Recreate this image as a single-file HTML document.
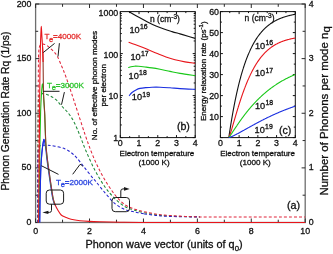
<!DOCTYPE html>
<html><head><meta charset="utf-8"><title>Phonon generation rate</title>
<style>html,body{margin:0;padding:0;background:#fff;width:333px;height:254px;overflow:hidden}svg{display:block;filter:blur(0.2px)}</style>
</head><body>
<svg width="333" height="254" viewBox="0 0 333 254"><g fill="none" stroke="#6e6e6e" stroke-width="1.1">
<rect x="35.6" y="4" width="269.6" height="218.5" stroke-width="1.3"/>
<path d="M35.6,222.5v-4.0M35.6,4v4.0M62.56,222.5v-2.8M62.56,4v2.8M89.52,222.5v-4.0M89.52,4v4.0M116.48,222.5v-2.8M116.48,4v2.8M143.44,222.5v-4.0M143.44,4v4.0M170.4,222.5v-2.8M170.4,4v2.8M197.36,222.5v-4.0M197.36,4v4.0M224.32,222.5v-2.8M224.32,4v2.8M251.28,222.5v-4.0M251.28,4v4.0M278.24,222.5v-2.8M278.24,4v2.8M305.2,222.5v-4.0M305.2,4v4.0M35.6,222.5h3.6M35.6,195.19h2.6M35.6,167.88h3.6M35.6,140.56h2.6M35.6,113.25h3.6M35.6,85.94h2.6M35.6,58.62h3.6M35.6,31.31h2.6M35.6,4h3.6M305.2,222.5h-3.6M305.2,195.19h-2.6M305.2,167.88h-3.6M305.2,140.56h-2.6M305.2,113.25h-3.6M305.2,85.94h-2.6M305.2,58.62h-3.6M305.2,31.31h-2.6M305.2,4h-3.6" stroke="#2a2a2a" stroke-width="1"/>
</g>
<g fill="none" stroke="#111" stroke-width="1">
<rect x="120.3" y="11.6" width="74.9" height="126" fill="#fff"/>
<path d="M120.3,137.6v-2.5M120.3,11.6v2.5M129.66,137.6v-1.5M129.66,11.6v1.5M139.03,137.6v-2.5M139.03,11.6v2.5M148.39,137.6v-1.5M148.39,11.6v1.5M157.75,137.6v-2.5M157.75,11.6v2.5M167.11,137.6v-1.5M167.11,11.6v1.5M176.47,137.6v-2.5M176.47,11.6v2.5M185.84,137.6v-1.5M185.84,11.6v1.5M195.2,137.6v-2.5M195.2,11.6v2.5M120.3,137.6h2.5M195.2,137.6h-2.5M120.3,124.96h1.5M195.2,124.96h-1.5M120.3,117.56h1.5M195.2,117.56h-1.5M120.3,112.31h1.5M195.2,112.31h-1.5M120.3,108.24h1.5M195.2,108.24h-1.5M120.3,104.92h1.5M195.2,104.92h-1.5M120.3,102.11h1.5M195.2,102.11h-1.5M120.3,99.67h1.5M195.2,99.67h-1.5M120.3,97.52h1.5M195.2,97.52h-1.5M120.3,95.6h2.5M195.2,95.6h-2.5M120.3,82.96h1.5M195.2,82.96h-1.5M120.3,75.56h1.5M195.2,75.56h-1.5M120.3,70.31h1.5M195.2,70.31h-1.5M120.3,66.24h1.5M195.2,66.24h-1.5M120.3,62.92h1.5M195.2,62.92h-1.5M120.3,60.11h1.5M195.2,60.11h-1.5M120.3,57.67h1.5M195.2,57.67h-1.5M120.3,55.52h1.5M195.2,55.52h-1.5M120.3,53.6h2.5M195.2,53.6h-2.5M120.3,40.96h1.5M195.2,40.96h-1.5M120.3,33.56h1.5M195.2,33.56h-1.5M120.3,28.31h1.5M195.2,28.31h-1.5M120.3,24.24h1.5M195.2,24.24h-1.5M120.3,20.92h1.5M195.2,20.92h-1.5M120.3,18.11h1.5M195.2,18.11h-1.5M120.3,15.67h1.5M195.2,15.67h-1.5M120.3,13.52h1.5M195.2,13.52h-1.5"/>
</g>
<g fill="none" stroke="#111" stroke-width="1">
<rect x="220.4" y="11.6" width="74.9" height="126" fill="#fff"/>
<path d="M220.4,137.6v-2.5M220.4,11.6v2.5M229.76,137.6v-1.5M229.76,11.6v1.5M239.12,137.6v-2.5M239.12,11.6v2.5M248.49,137.6v-1.5M248.49,11.6v1.5M257.85,137.6v-2.5M257.85,11.6v2.5M267.21,137.6v-1.5M267.21,11.6v1.5M276.57,137.6v-2.5M276.57,11.6v2.5M285.94,137.6v-1.5M285.94,11.6v1.5M295.3,137.6v-2.5M295.3,11.6v2.5M220.4,137.6h2.5M295.3,137.6h-2.5M220.4,127.1h1.5M295.3,127.1h-1.5M220.4,116.6h2.5M295.3,116.6h-2.5M220.4,106.1h1.5M295.3,106.1h-1.5M220.4,95.6h2.5M295.3,95.6h-2.5M220.4,85.1h1.5M295.3,85.1h-1.5M220.4,74.6h2.5M295.3,74.6h-2.5M220.4,64.1h1.5M295.3,64.1h-1.5M220.4,53.6h2.5M295.3,53.6h-2.5M220.4,43.1h1.5M295.3,43.1h-1.5M220.4,32.6h2.5M295.3,32.6h-2.5M220.4,22.1h1.5M295.3,22.1h-1.5M220.4,11.6h2.5M295.3,11.6h-2.5"/>
</g>
<path d="M128.8,11.6C130.4,12.52 135.2,15.33 138.4,17.1C141.6,18.87 145.07,20.72 148,22.2C150.93,23.68 153.33,24.85 156,26C158.67,27.15 161.33,28.17 164,29.1C166.67,30.03 169.33,30.8 172,31.6C174.67,32.4 177.33,33.13 180,33.9C182.67,34.67 185.47,35.45 188,36.2C190.53,36.95 194,38.03 195.2,38.4" fill="none" stroke="#111" stroke-width="1.1"/>
<path d="M128.6,42.2C129.67,42.58 132.6,43.6 135,44.5C137.4,45.4 140.5,46.6 143,47.6C145.5,48.6 147.5,49.47 150,50.5C152.5,51.53 155.33,52.72 158,53.8C160.67,54.88 163.17,56 166,57C168.83,58 171.83,58.98 175,59.8C178.17,60.62 181.63,61.33 185,61.9C188.37,62.47 193.5,62.98 195.2,63.2" fill="none" stroke="#e8151b" stroke-width="1.1"/>
<path d="M128.2,67.6C128.67,67.45 129.95,66.93 131,66.7C132.05,66.47 133.25,66.27 134.5,66.2C135.75,66.13 136.75,66.17 138.5,66.3C140.25,66.43 142.75,66.73 145,67C147.25,67.27 149.5,67.52 152,67.9C154.5,68.28 157,68.72 160,69.3C163,69.88 166.67,70.72 170,71.4C173.33,72.08 175.8,72.68 180,73.4C184.2,74.12 192.67,75.32 195.2,75.7" fill="none" stroke="#19c819" stroke-width="1.1"/>
<path d="M129,95.9C129.5,95.33 130.83,93.5 132,92.5C133.17,91.5 134.67,90.58 136,89.9C137.33,89.22 138.33,88.78 140,88.4C141.67,88.02 144,87.8 146,87.6C148,87.4 149.67,87.27 152,87.2C154.33,87.13 157,87.1 160,87.2C163,87.3 166.67,87.57 170,87.8C173.33,88.03 175.8,88.33 180,88.6C184.2,88.87 192.67,89.27 195.2,89.4" fill="none" stroke="#1a2fe0" stroke-width="1.1"/>
<path d="M228.8,137.6 L228.87,137.14 L228.97,136.48 L229.02,136.1 L229.08,135.7 L229.15,135.28 L229.21,134.84 L229.28,134.38 L229.35,133.91 L229.42,133.43 L229.5,132.94 L229.57,132.44 L229.65,131.92 L229.73,131.4 L229.81,130.87 L229.9,130.33 L229.98,129.78 L230.07,129.23 L230.15,128.67 L230.24,128.1 L230.33,127.53 L230.42,126.96 L230.52,126.37 L230.61,125.79 L230.7,125.2 L230.8,124.6 L230.9,124.01 L230.99,123.41 L231.09,122.8 L231.19,122.19 L231.29,121.58 L231.4,120.97 L231.5,120.36 L231.6,119.74 L231.71,119.12 L231.81,118.5 L231.92,117.88 L232.02,117.26 L232.13,116.63 L232.24,116 L232.35,115.38 L232.46,114.75 L232.57,114.12 L232.68,113.49 L232.8,112.86 L232.91,112.23 L233.02,111.6 L233.14,110.97 L233.25,110.34 L233.37,109.71 L233.49,109.08 L233.61,108.46 L233.72,107.83 L233.84,107.2 L233.96,106.57 L234.08,105.94 L234.2,105.32 L234.32,104.69 L234.45,104.07 L234.57,103.44 L234.69,102.82 L234.82,102.2 L234.94,101.58 L235.07,100.96 L235.19,100.34 L235.32,99.73 L235.44,99.11 L235.57,98.5 L235.7,97.89 L235.83,97.28 L235.96,96.67 L236.09,96.06 L236.22,95.46 L236.35,94.85 L236.48,94.25 L236.61,93.65 L236.74,93.05 L236.87,92.46 L237.01,91.87 L237.14,91.27 L237.27,90.69 L237.41,90.1 L237.54,89.51 L237.68,88.93 L237.82,88.35 L237.95,87.77 L238.09,87.2 L238.23,86.62 L238.36,86.05 L238.5,85.48 L238.64,84.92 L238.78,84.35 L238.92,83.79 L239.06,83.23 L239.2,82.68 L239.34,82.12 L239.48,81.57 L239.63,81.02 L239.77,80.47 L239.91,79.93 L240.05,79.39 L240.2,78.85 L240.34,78.32 L240.49,77.78 L240.63,77.25 L240.78,76.72 L240.92,76.2 L241.07,75.68 L241.22,75.16 L241.36,74.64 L241.51,74.13 L241.66,73.61 L241.81,73.11 L241.95,72.6 L242.1,72.1 L242.25,71.6 L242.4,71.1 L242.55,70.61 L242.7,70.11 L242.85,69.62 L243,69.14 L243.16,68.66 L243.31,68.17 L243.46,67.7 L243.61,67.22 L243.77,66.75 L243.92,66.28 L244.07,65.82 L244.23,65.35 L244.38,64.89 L244.54,64.43 L244.69,63.98 L244.85,63.53 L245,63.08 L245.16,62.63 L245.32,62.19 L245.47,61.75 L245.63,61.31 L245.79,60.87 L245.94,60.44 L246.1,60.01 L246.26,59.59 L246.42,59.16 L246.58,58.74 L246.74,58.32 L246.9,57.91 L247.06,57.49 L247.22,57.08 L247.38,56.68 L247.54,56.27 L247.7,55.87 L247.87,55.47 L248.03,55.08 L248.19,54.68 L248.35,54.29 L248.52,53.91 L248.68,53.52 L248.84,53.14 L249.01,52.76 L249.17,52.38 L249.34,52.01 L249.5,51.64 L249.67,51.27 L249.83,50.9 L250,50.54 L250.16,50.18 L250.33,49.82 L250.5,49.46 L250.66,49.11 L250.83,48.76 L251,48.41 L251.17,48.07 L251.34,47.73 L251.5,47.39 L251.67,47.05 L251.84,46.71 L252.01,46.38 L252.18,46.05 L252.35,45.73 L252.52,45.4 L252.69,45.08 L252.86,44.76 L253.03,44.44 L253.2,44.13 L253.38,43.81 L253.55,43.5 L253.72,43.2 L253.89,42.89 L254.24,42.29 L254.59,41.7 L254.93,41.11 L255.28,40.54 L255.63,39.97 L255.98,39.42 L256.34,38.87 L256.69,38.33 L257.04,37.8 L257.4,37.28 L257.75,36.77 L258.11,36.27 L258.47,35.77 L258.83,35.29 L259.19,34.81 L259.55,34.34 L259.91,33.88 L260.28,33.42 L260.64,32.98 L261.01,32.54 L261.37,32.11 L261.74,31.68 L262.11,31.27 L262.48,30.86 L262.85,30.46 L263.22,30.07 L263.59,29.68 L263.96,29.3 L264.33,28.93 L264.71,28.56 L265.08,28.2 L265.46,27.85 L265.84,27.5 L266.22,27.16 L266.59,26.83 L266.97,26.5 L267.36,26.18 L267.74,25.86 L268.12,25.55 L268.5,25.25 L268.89,24.95 L269.27,24.65 L269.66,24.37 L270.04,24.09 L270.43,23.81 L270.82,23.54 L271.21,23.27 L271.6,23.01 L271.99,22.76 L272.38,22.51 L272.77,22.26 L273.17,22.02 L273.56,21.78 L273.96,21.55 L274.35,21.32 L274.75,21.1 L275.15,20.88 L275.54,20.67 L275.94,20.46 L276.34,20.25 L276.74,20.05 L277.14,19.86 L277.55,19.66 L277.95,19.47 L278.35,19.29 L278.76,19.11 L279.16,18.93 L279.57,18.75 L279.97,18.58 L280.38,18.42 L280.79,18.25 L281.2,18.09 L281.61,17.93 L282.02,17.78 L282.43,17.63 L282.84,17.48 L283.25,17.34 L283.67,17.2 L284.08,17.06 L284.5,16.92 L284.91,16.79 L285.33,16.66 L285.74,16.53 L286.16,16.41 L286.58,16.29 L287,16.17 L287.42,16.05 L287.84,15.94 L288.26,15.82 L288.68,15.72 L289.1,15.61 L289.52,15.5 L289.95,15.4 L290.37,15.3 L290.8,15.2 L291.22,15.11 L291.65,15.01 L292.08,14.92 L292.5,14.83 L292.93,14.74 L293.36,14.66 L293.79,14.58 L294.22,14.49 L294.65,14.41 L295.08,14.33 L295.3,14.3" fill="none" stroke="#111" stroke-width="1.1"/>
<path d="M228.8,137.6 L229.02,137.2 L229.21,136.76 L229.35,136.42 L229.5,136.03 L229.65,135.61 L229.81,135.15 L229.98,134.67 L230.15,134.15 L230.33,133.61 L230.52,133.04 L230.7,132.45 L230.9,131.83 L231.09,131.2 L231.29,130.54 L231.5,129.87 L231.6,129.53 L231.71,129.18 L231.81,128.83 L231.92,128.47 L232.02,128.11 L232.13,127.75 L232.24,127.38 L232.35,127.01 L232.46,126.64 L232.57,126.26 L232.68,125.88 L232.8,125.49 L232.91,125.11 L233.02,124.72 L233.14,124.32 L233.25,123.93 L233.37,123.53 L233.49,123.13 L233.61,122.72 L233.72,122.32 L233.84,121.91 L233.96,121.5 L234.08,121.09 L234.2,120.67 L234.32,120.26 L234.45,119.84 L234.57,119.42 L234.69,118.99 L234.82,118.57 L234.94,118.15 L235.07,117.72 L235.19,117.29 L235.32,116.86 L235.44,116.43 L235.57,116 L235.7,115.56 L235.83,115.13 L235.96,114.69 L236.09,114.25 L236.22,113.82 L236.35,113.38 L236.48,112.94 L236.61,112.5 L236.74,112.06 L236.87,111.61 L237.01,111.17 L237.14,110.73 L237.27,110.29 L237.41,109.84 L237.54,109.4 L237.68,108.95 L237.82,108.51 L237.95,108.07 L238.09,107.62 L238.23,107.18 L238.36,106.73 L238.5,106.29 L238.64,105.84 L238.78,105.4 L238.92,104.95 L239.06,104.51 L239.2,104.06 L239.34,103.62 L239.48,103.17 L239.63,102.73 L239.77,102.29 L239.91,101.85 L240.05,101.4 L240.2,100.96 L240.34,100.52 L240.49,100.08 L240.63,99.64 L240.78,99.2 L240.92,98.76 L241.07,98.33 L241.22,97.89 L241.36,97.45 L241.51,97.02 L241.66,96.58 L241.81,96.15 L241.95,95.72 L242.1,95.29 L242.25,94.86 L242.4,94.43 L242.55,94 L242.7,93.57 L242.85,93.15 L243,92.72 L243.16,92.3 L243.31,91.88 L243.46,91.46 L243.61,91.04 L243.77,90.62 L243.92,90.2 L244.07,89.78 L244.23,89.37 L244.38,88.96 L244.54,88.55 L244.69,88.13 L244.85,87.73 L245,87.32 L245.16,86.91 L245.32,86.51 L245.47,86.11 L245.63,85.7 L245.79,85.31 L245.94,84.91 L246.1,84.51 L246.26,84.12 L246.42,83.72 L246.58,83.33 L246.74,82.94 L246.9,82.55 L247.06,82.17 L247.22,81.78 L247.38,81.4 L247.54,81.02 L247.7,80.64 L247.87,80.26 L248.03,79.89 L248.19,79.51 L248.35,79.14 L248.52,78.77 L248.68,78.4 L248.84,78.03 L249.01,77.67 L249.17,77.31 L249.34,76.94 L249.5,76.58 L249.67,76.23 L249.83,75.87 L250,75.52 L250.16,75.17 L250.33,74.82 L250.5,74.47 L250.66,74.12 L250.83,73.78 L251,73.44 L251.17,73.1 L251.34,72.76 L251.5,72.42 L251.67,72.09 L251.84,71.76 L252.01,71.43 L252.18,71.1 L252.35,70.77 L252.52,70.45 L252.69,70.13 L252.86,69.81 L253.03,69.49 L253.2,69.17 L253.38,68.86 L253.55,68.54 L253.72,68.23 L253.89,67.93 L254.07,67.62 L254.24,67.32 L254.59,66.71 L254.93,66.12 L255.28,65.53 L255.63,64.95 L255.98,64.38 L256.34,63.82 L256.69,63.26 L257.04,62.72 L257.4,62.18 L257.75,61.65 L258.11,61.12 L258.47,60.61 L258.83,60.1 L259.19,59.6 L259.55,59.11 L259.91,58.62 L260.28,58.15 L260.64,57.68 L261.01,57.21 L261.37,56.76 L261.74,56.31 L262.11,55.87 L262.48,55.44 L262.85,55.01 L263.22,54.6 L263.59,54.19 L263.96,53.78 L264.33,53.38 L264.71,52.99 L265.08,52.61 L265.46,52.23 L265.84,51.86 L266.22,51.5 L266.59,51.14 L266.97,50.79 L267.36,50.45 L267.74,50.11 L268.12,49.78 L268.5,49.45 L268.89,49.13 L269.27,48.82 L269.66,48.51 L270.04,48.21 L270.43,47.92 L270.82,47.63 L271.21,47.34 L271.6,47.06 L271.99,46.79 L272.38,46.52 L272.77,46.26 L273.17,46 L273.56,45.75 L273.96,45.5 L274.35,45.26 L274.75,45.02 L275.15,44.79 L275.54,44.57 L275.94,44.34 L276.34,44.13 L276.74,43.91 L277.14,43.7 L277.55,43.5 L277.95,43.3 L278.35,43.11 L278.76,42.91 L279.16,42.73 L279.57,42.54 L279.97,42.37 L280.38,42.19 L280.79,42.02 L281.2,41.85 L281.61,41.69 L282.02,41.53 L282.43,41.37 L282.84,41.22 L283.25,41.07 L283.67,40.93 L284.08,40.78 L284.5,40.64 L284.91,40.51 L285.33,40.38 L285.74,40.25 L286.16,40.12 L286.58,40 L287,39.88 L287.42,39.76 L287.84,39.64 L288.26,39.53 L288.68,39.42 L289.1,39.32 L289.52,39.21 L289.95,39.11 L290.37,39.01 L290.8,38.91 L291.22,38.82 L291.65,38.73 L292.08,38.64 L292.5,38.55 L292.93,38.47 L293.36,38.38 L293.79,38.3 L294.22,38.22 L294.65,38.15 L295.08,38.07 L295.3,38.03" fill="none" stroke="#e8151b" stroke-width="1.1"/>
<path d="M228.8,137.6 L229.08,137.26 L229.35,136.89 L229.57,136.58 L229.81,136.24 L230.07,135.87 L230.33,135.48 L230.61,135.07 L230.9,134.64 L231.09,134.35 L231.29,134.04 L231.5,133.74 L231.71,133.42 L231.92,133.1 L232.13,132.77 L232.35,132.44 L232.57,132.11 L232.8,131.76 L233.02,131.42 L233.25,131.07 L233.49,130.71 L233.72,130.36 L233.96,130 L234.2,129.63 L234.45,129.26 L234.69,128.89 L234.94,128.52 L235.19,128.14 L235.44,127.76 L235.7,127.38 L235.96,127 L236.22,126.61 L236.48,126.22 L236.74,125.83 L237.01,125.44 L237.27,125.04 L237.54,124.65 L237.82,124.25 L238.09,123.85 L238.36,123.45 L238.64,123.05 L238.92,122.65 L239.2,122.25 L239.48,121.85 L239.77,121.44 L240.05,121.04 L240.34,120.63 L240.63,120.23 L240.92,119.82 L241.22,119.41 L241.51,119.01 L241.81,118.6 L242.1,118.19 L242.4,117.78 L242.7,117.38 L243,116.97 L243.31,116.56 L243.61,116.15 L243.92,115.75 L244.23,115.34 L244.54,114.93 L244.85,114.53 L245.16,114.12 L245.47,113.72 L245.79,113.31 L246.1,112.91 L246.42,112.51 L246.74,112.11 L247.06,111.71 L247.38,111.3 L247.7,110.91 L248.03,110.51 L248.35,110.11 L248.68,109.71 L249.01,109.32 L249.34,108.92 L249.67,108.53 L250,108.14 L250.33,107.75 L250.66,107.36 L251,106.97 L251.34,106.58 L251.67,106.19 L252.01,105.81 L252.35,105.43 L252.69,105.04 L253.03,104.66 L253.38,104.28 L253.72,103.91 L254.07,103.53 L254.41,103.16 L254.76,102.78 L255.11,102.41 L255.46,102.04 L255.81,101.67 L256.16,101.31 L256.51,100.94 L256.87,100.58 L257.22,100.22 L257.58,99.86 L257.93,99.5 L258.29,99.15 L258.65,98.79 L259.01,98.44 L259.37,98.09 L259.73,97.74 L260.09,97.39 L260.46,97.05 L260.82,96.7 L261.19,96.36 L261.56,96.02 L261.92,95.68 L262.29,95.35 L262.66,95.01 L263.03,94.68 L263.4,94.35 L263.77,94.02 L264.15,93.7 L264.52,93.37 L264.9,93.05 L265.27,92.73 L265.65,92.41 L266.03,92.1 L266.41,91.78 L266.78,91.47 L267.17,91.16 L267.55,90.85 L267.93,90.55 L268.31,90.24 L268.69,89.94 L269.08,89.64 L269.46,89.34 L269.85,89.04 L270.24,88.75 L270.63,88.46 L271.02,88.17 L271.4,87.88 L271.8,87.59 L272.19,87.31 L272.58,87.03 L272.97,86.74 L273.37,86.47 L273.76,86.19 L274.15,85.92 L274.55,85.64 L274.95,85.37 L275.35,85.11 L275.74,84.84 L276.14,84.57 L276.54,84.31 L276.94,84.05 L277.35,83.79 L277.75,83.54 L278.15,83.28 L278.56,83.03 L278.96,82.78 L279.37,82.53 L279.77,82.29 L280.18,82.04 L280.59,81.8 L280.99,81.56 L281.4,81.32 L281.81,81.08 L282.22,80.85 L282.64,80.61 L283.05,80.38 L283.46,80.15 L283.87,79.93 L284.29,79.7 L284.7,79.48 L285.12,79.26 L285.53,79.04 L285.95,78.82 L286.37,78.6 L286.79,78.39 L287.21,78.18 L287.63,77.97 L288.05,77.76 L288.47,77.55 L288.89,77.35 L289.31,77.14 L289.74,76.94 L290.16,76.74 L290.58,76.54 L291.01,76.35 L291.44,76.15 L291.86,75.96 L292.29,75.77 L292.72,75.58 L293.15,75.39 L293.58,75.21 L294.01,75.02 L294.44,74.84 L294.87,74.66 L295.3,74.48" fill="none" stroke="#19c819" stroke-width="1.1"/>
<path d="M228.8,137.6 L229.15,137.53 L229.5,137.42 L229.9,137.29 L230.24,137.17 L230.61,137.03 L230.99,136.87 L231.4,136.71 L231.81,136.53 L232.13,136.39 L232.46,136.24 L232.8,136.08 L233.14,135.92 L233.49,135.76 L233.84,135.59 L234.2,135.41 L234.57,135.23 L234.94,135.05 L235.32,134.86 L235.7,134.66 L236.09,134.46 L236.48,134.26 L236.87,134.05 L237.27,133.84 L237.68,133.63 L238.09,133.41 L238.5,133.19 L238.92,132.96 L239.34,132.73 L239.77,132.5 L240.2,132.27 L240.63,132.03 L241.07,131.79 L241.51,131.55 L241.95,131.3 L242.4,131.05 L242.85,130.8 L243.31,130.55 L243.77,130.3 L244.07,130.12 L244.38,129.95 L244.69,129.78 L245,129.6 L245.32,129.43 L245.63,129.25 L245.94,129.08 L246.26,128.9 L246.58,128.72 L246.9,128.54 L247.22,128.36 L247.54,128.18 L247.87,128 L248.19,127.82 L248.52,127.64 L248.84,127.46 L249.17,127.28 L249.5,127.09 L249.83,126.91 L250.16,126.72 L250.5,126.54 L250.83,126.35 L251.17,126.17 L251.5,125.98 L251.84,125.8 L252.18,125.61 L252.52,125.42 L252.86,125.23 L253.2,125.05 L253.55,124.86 L253.89,124.67 L254.24,124.48 L254.59,124.29 L254.93,124.1 L255.28,123.91 L255.63,123.72 L255.98,123.53 L256.34,123.34 L256.69,123.16 L257.04,122.97 L257.4,122.78 L257.75,122.59 L258.11,122.4 L258.47,122.21 L258.83,122.02 L259.19,121.83 L259.55,121.64 L259.91,121.45 L260.28,121.26 L260.64,121.07 L261.01,120.88 L261.37,120.69 L261.74,120.5 L262.11,120.31 L262.48,120.12 L262.85,119.93 L263.22,119.74 L263.59,119.55 L263.96,119.36 L264.33,119.17 L264.71,118.99 L265.08,118.8 L265.46,118.61 L265.84,118.42 L266.22,118.24 L266.59,118.05 L266.97,117.86 L267.36,117.68 L267.74,117.49 L268.12,117.31 L268.5,117.12 L268.89,116.93 L269.27,116.75 L269.66,116.57 L270.04,116.38 L270.43,116.2 L270.82,116.02 L271.21,115.83 L271.6,115.65 L271.99,115.47 L272.38,115.29 L272.77,115.11 L273.17,114.93 L273.56,114.75 L273.96,114.57 L274.35,114.39 L274.75,114.21 L275.15,114.03 L275.54,113.86 L275.94,113.68 L276.34,113.5 L276.74,113.33 L277.14,113.15 L277.55,112.98 L277.95,112.8 L278.35,112.63 L278.76,112.46 L279.16,112.29 L279.57,112.11 L279.97,111.94 L280.38,111.77 L280.79,111.6 L281.2,111.43 L281.61,111.27 L282.02,111.1 L282.43,110.93 L282.84,110.76 L283.25,110.6 L283.67,110.43 L284.08,110.27 L284.5,110.1 L284.91,109.94 L285.33,109.78 L285.74,109.62 L286.16,109.45 L286.58,109.29 L287,109.13 L287.42,108.97 L287.84,108.82 L288.26,108.66 L288.68,108.5 L289.1,108.34 L289.52,108.19 L289.95,108.03 L290.37,107.88 L290.8,107.73 L291.22,107.57 L291.65,107.42 L292.08,107.27 L292.5,107.12 L292.93,106.97 L293.36,106.82 L293.79,106.67 L294.22,106.52 L294.65,106.38 L295.08,106.23 L295.3,106.16" fill="none" stroke="#1a2fe0" stroke-width="1.1"/>
<g fill="none" stroke-width="1.05" stroke-dasharray="2.9 2.1">
<path d="M37.8,222.5C37.8,210.42 37.75,168.75 37.8,150C37.85,131.25 37.93,118.83 38.1,110C38.27,101.17 38.4,99.67 38.8,97C39.2,94.33 39.5,94.52 40.5,94C41.5,93.48 43.22,93.6 44.8,93.9C46.38,94.2 48.13,94.83 50,95.8C51.87,96.77 54.18,98.13 56,99.7C57.82,101.27 59.23,103.4 60.9,105.2C62.57,107 64.4,108.7 66,110.5C67.6,112.3 69,113.75 70.5,116C72,118.25 73.42,120.72 75,124C76.58,127.28 78.17,131.2 80,135.7C81.83,140.2 83.53,145.28 86,151C88.47,156.72 91.67,164.05 94.8,170C97.93,175.95 101.48,181.95 104.8,186.7C108.12,191.45 111.42,195.23 114.7,198.5C117.98,201.77 121.28,204.38 124.5,206.3C127.72,208.22 130.72,208.92 134,210C137.28,211.08 142.5,212.33 144.2,212.8" stroke="#218a3a"/>
<path d="M144.2,212.8C146.33,213.15 152.7,214.37 157,214.9C161.3,215.43 165.33,215.72 170,216C174.67,216.28 180,216.45 185,216.6C190,216.75 197.5,216.85 200,216.9" stroke="#218a3a"/>
<path d="M37.7,222.5C37.7,213.75 37.62,181.75 37.7,170C37.78,158.25 37.9,155.92 38.2,152C38.5,148.08 38.87,147.62 39.5,146.5C40.13,145.38 40.58,145.5 42,145.3C43.42,145.1 45.83,145.15 48,145.3C50.17,145.45 52.22,145.62 55,146.2C57.78,146.78 62.03,147.75 64.7,148.8C67.37,149.85 69.03,151.03 71,152.5C72.97,153.97 74.27,155.1 76.5,157.6C78.73,160.1 81.78,164.22 84.4,167.5C87.02,170.78 90.27,174.93 92.2,177.3C94.13,179.67 93.9,179.15 96,181.7C98.1,184.25 101.68,188.98 104.8,192.6C107.92,196.22 111.42,200.62 114.7,203.4C117.98,206.18 121.28,207.9 124.5,209.3C127.72,210.7 130.72,211.03 134,211.8C137.28,212.57 142.5,213.55 144.2,213.9" stroke="#2222cc"/>
<path d="M144.2,213.9C146.33,214.18 152.7,215.18 157,215.6C161.3,216.02 165.33,216.2 170,216.4C174.67,216.6 180,216.72 185,216.8C190,216.88 197.5,216.88 200,216.9" stroke="#2222cc"/>
<path d="M38.2,222.5C38.2,210.42 38.18,173.75 38.2,150C38.22,126.25 38.23,95.83 38.3,80C38.37,64.17 38.42,60.5 38.6,55C38.78,49.5 39,48.73 39.4,47C39.8,45.27 40.23,45.07 41,44.6C41.77,44.13 43,44.03 44,44.2C45,44.37 45.97,44.93 47,45.6C48.03,46.27 49.03,47.17 50.2,48.2C51.37,49.23 52.8,50.42 54,51.8C55.2,53.18 56.1,54.05 57.4,56.5C58.7,58.95 60.37,63.08 61.8,66.5C63.23,69.92 64.33,72.42 66,77C67.67,81.58 69.8,88 71.8,94C73.8,100 75.77,106.17 78,113C80.23,119.83 83.03,128.67 85.2,135C87.37,141.33 89.03,146 91,151C92.97,156 94.7,160.2 97,165C99.3,169.8 101.85,174.88 104.8,179.8C107.75,184.72 111.42,190.4 114.7,194.5C117.98,198.6 121.28,202.02 124.5,204.4C127.72,206.78 130.72,207.57 134,208.8C137.28,210.03 142.5,211.3 144.2,211.8" stroke="#e0243a"/>
<path d="M144.2,211.8C146.33,212.2 152.7,213.58 157,214.2C161.3,214.82 165.33,215.13 170,215.5C174.67,215.87 180,216.17 185,216.4C190,216.63 190.83,216.8 200,216.9C209.17,217 222.47,216.98 240,217C257.53,217.02 294.33,217 305.2,217" stroke="#e0243a"/>
</g>
<defs><linearGradient id="tg" gradientUnits="userSpaceOnUse" x1="0" y1="0" x2="0" y2="254"><stop offset="0.1890" stop-color="#e8151b"/><stop offset="0.2441" stop-color="#8f3a2a"/><stop offset="0.5315" stop-color="#8f3a2a"/><stop offset="0.6299" stop-color="#9a2c55"/><stop offset="0.7795" stop-color="#9e2a50"/><stop offset="0.8268" stop-color="#e8151b"/></linearGradient></defs>
<g fill="none" stroke-width="1.1">
<path d="M39.7,222.5C39.77,217.92 39.93,203.42 40.1,195C40.27,186.58 40.5,177.83 40.7,172C40.9,166.17 41.02,164 41.3,160C41.58,156 41.98,151.43 42.4,148C42.82,144.57 43.38,140.15 43.8,139.4C44.22,138.65 44.55,141.73 44.9,143.5C45.25,145.27 45.55,147.25 45.9,150C46.25,152.75 46.58,156.67 47,160C47.42,163.33 47.93,166.67 48.4,170C48.87,173.33 49.32,176.67 49.8,180C50.28,183.33 50.8,186.83 51.3,190C51.8,193.17 52.23,196.5 52.8,199C53.37,201.5 54.38,204 54.7,205" stroke="#1a2fe0"/>
<path d="M39.2,222.5C39.25,215.42 39.37,193.75 39.5,180C39.63,166.25 39.82,151.33 40,140C40.18,128.67 40.37,119.5 40.6,112C40.83,104.5 41.1,99.63 41.4,95C41.7,90.37 42.1,85.37 42.4,84.2C42.7,83.03 43.02,86.2 43.2,88C43.38,89.8 43.35,92.17 43.5,95C43.65,97.83 43.9,101.67 44.1,105C44.3,108.33 44.52,110.83 44.7,115C44.88,119.17 45.03,125.5 45.2,130C45.37,134.5 45.52,138.67 45.7,142C45.88,145.33 46.02,147 46.3,150C46.58,153 46.98,156.67 47.4,160C47.82,163.33 48.33,166.67 48.8,170C49.27,173.33 49.72,176.67 50.2,180C50.68,183.33 51.2,186.83 51.7,190C52.2,193.17 52.63,196.5 53.2,199C53.77,201.5 54.78,204 55.1,205" stroke="#19c819"/>
<path d="M42.5,46C42.57,47.33 42.8,51.33 42.9,54C43,56.67 43.03,57.67 43.1,62C43.17,66.33 43.22,74.5 43.3,80C43.38,85.5 43.45,90.83 43.6,95C43.75,99.17 44,101.67 44.2,105C44.4,108.33 44.62,110.83 44.8,115C44.98,119.17 45.13,125.5 45.3,130C45.47,134.5 45.62,138.67 45.8,142C45.98,145.33 46.12,147 46.4,150C46.68,153 47.08,156.67 47.5,160C47.92,163.33 48.43,166.67 48.9,170C49.37,173.33 49.82,176.67 50.3,180C50.78,183.33 51.3,186.83 51.8,190C52.3,193.17 52.73,196.5 53.3,199C53.87,201.5 54.45,203.17 55.2,205C55.95,206.83 56.8,208.33 57.8,210C58.8,211.67 59.83,213.75 61.2,215C62.57,216.25 64.37,216.8 66,217.5C67.63,218.2 68.67,218.67 71,219.2C73.33,219.73 77,220.33 80,220.7C83,221.07 85.67,221.22 89,221.4C92.33,221.58 94.83,221.67 100,221.8C105.17,221.93 111.67,222.09 120,222.2C128.33,222.31 119.13,222.4 150,222.45C180.87,222.5 279.33,222.49 305.2,222.5" stroke="url(#tg)"/>
<path d="M38.7,222.5C38.75,215.42 38.87,197.08 39,180C39.13,162.92 39.35,137.5 39.5,120C39.65,102.5 39.77,86.33 39.9,75C40.03,63.67 40.17,58 40.3,52C40.42,46 40.53,42.5 40.65,39C40.77,35.5 40.89,33.12 41,31C41.11,28.88 41.2,26.3 41.3,26.3C41.4,26.3 41.48,29.05 41.6,31C41.72,32.95 41.85,35.5 42,38C42.15,40.5 42.35,43.33 42.5,46C42.65,48.67 42.8,51.33 42.9,54C43,56.67 43.07,60.67 43.1,62" stroke="#e8151b"/>
<path d="M39.7,222.5C39.77,217.92 39.93,203.42 40.1,195C40.27,186.58 40.5,177.83 40.7,172C40.9,166.17 41.02,164 41.3,160C41.58,156 41.98,151.43 42.4,148C42.82,144.57 43.57,140.83 43.8,139.4" stroke="#1a2fe0"/>
</g>
<g fill="none" stroke="#1a1a1a" stroke-width="1">
<path d="M43.2,52.6 L54.6,43.4 M59.4,43.2 L58,56.5"/>
<path d="M43.2,91.3 L59.5,91.3 M64.4,92.1 L61.5,104.7"/>
<path d="M41.3,165.7 L58.5,174.4 M72.7,174.3 L79.9,164.6 L81.2,164.5 L82.6,166.4"/>
<rect x="46.2" y="190" width="17.4" height="14.2" rx="3.2"/>
<rect x="112" y="197.5" width="17.5" height="14.2" rx="3.2"/>
<path d="M51.5,204.2 V210.4 Q51.5,212.4 49.5,212.4 H46.5"/>
<path d="M120.8,197.5 V191 Q120.8,188.9 123,188.9 H125"/>
</g>
<path d="M42.4,212.4 L48.4,210.8 L48.4,214.0 Z" fill="#1a1a1a"/>
<path d="M129.7,188.9 L124,187.1 L124,190.7 Z" fill="#1a1a1a"/>
<g font-family='"Liberation Sans", Arial, Helvetica, sans-serif' stroke-width="0.3">
<text x="31.4" y="225" font-size="8.8" text-anchor="end" fill="#111" stroke="#111" >0</text>
<text x="31.4" y="170.38" font-size="8.8" text-anchor="end" fill="#111" stroke="#111" >50</text>
<text x="31.4" y="115.75" font-size="8.8" text-anchor="end" fill="#111" stroke="#111" >100</text>
<text x="31.4" y="61.12" font-size="8.8" text-anchor="end" fill="#111" stroke="#111" >150</text>
<text x="31.4" y="6.5" font-size="8.8" text-anchor="end" fill="#111" stroke="#111" >200</text>
<text x="308.8" y="225" font-size="8.8" text-anchor="start" fill="#111" stroke="#111" >0</text>
<text x="308.8" y="170.38" font-size="8.8" text-anchor="start" fill="#111" stroke="#111" >1</text>
<text x="308.8" y="115.75" font-size="8.8" text-anchor="start" fill="#111" stroke="#111" >2</text>
<text x="308.8" y="61.12" font-size="8.8" text-anchor="start" fill="#111" stroke="#111" >3</text>
<text x="308.8" y="6.5" font-size="8.8" text-anchor="start" fill="#111" stroke="#111" >4</text>
<text x="35.6" y="233.8" font-size="8.8" text-anchor="middle" fill="#111" stroke="#111" >0</text>
<text x="89.52" y="233.8" font-size="8.8" text-anchor="middle" fill="#111" stroke="#111" >2</text>
<text x="143.44" y="233.8" font-size="8.8" text-anchor="middle" fill="#111" stroke="#111" >4</text>
<text x="197.36" y="233.8" font-size="8.8" text-anchor="middle" fill="#111" stroke="#111" >6</text>
<text x="251.28" y="233.8" font-size="8.8" text-anchor="middle" fill="#111" stroke="#111" >8</text>
<text x="305.2" y="233.8" font-size="8.8" text-anchor="middle" fill="#111" stroke="#111" >10</text>
<text transform="translate(8.6,190.6) rotate(-90)" font-size="10.3" fill="#111" textLength="159" lengthAdjust="spacingAndGlyphs" stroke="#111">Phonon Generation Rate Rq (1/ps)</text>
<text transform="translate(328.2,195.6) rotate(-90)" font-size="11.4" fill="#111" textLength="169.4" lengthAdjust="spacingAndGlyphs" stroke="#111">Number of Phonons per mode n<tspan dy="1.6">q</tspan></text>
<text x="85.6" y="248.4" font-size="10.5" fill="#111" textLength="157" lengthAdjust="spacingAndGlyphs" stroke="#111">Phonon wave vector (units of q<tspan font-size="7.5" dy="2.8">0</tspan><tspan dy="-2.8">)</tspan></text>
<text x="287" y="209.2" font-size="10.8" text-anchor="start" fill="#111" stroke="#111" >(a)</text>
<text x="118.2" y="141" font-size="8.8" text-anchor="end" fill="#111" stroke="#111" >1</text>
<text x="118.2" y="99" font-size="8.8" text-anchor="end" fill="#111" stroke="#111" >10</text>
<text x="118.2" y="57.6" font-size="8.8" text-anchor="end" fill="#111" stroke="#111" >100</text>
<text x="118.2" y="15.6" font-size="8.8" text-anchor="end" fill="#111" stroke="#111" >1000</text>
<text x="120.3" y="146.2" font-size="8.8" text-anchor="middle" fill="#111" stroke="#111" >0</text>
<text x="139.03" y="146.2" font-size="8.8" text-anchor="middle" fill="#111" stroke="#111" >1</text>
<text x="157.75" y="146.2" font-size="8.8" text-anchor="middle" fill="#111" stroke="#111" >2</text>
<text x="176.47" y="146.2" font-size="8.8" text-anchor="middle" fill="#111" stroke="#111" >3</text>
<text x="195.2" y="146.2" font-size="8.8" text-anchor="middle" fill="#111" stroke="#111" >4</text>
<text x="156.9" y="155.6" font-size="8" text-anchor="middle" fill="#111" stroke="#111" >Electron temperature</text>
<text x="154.1" y="165" font-size="8.1" text-anchor="middle" fill="#111" stroke="#111" >(1000 K)</text>
<text transform="translate(97.2,140.2) rotate(-90)" font-size="8" fill="#111" textLength="109.3" lengthAdjust="spacingAndGlyphs" stroke="#111">No. of effective phonon modes</text>
<text transform="translate(106,106.4) rotate(-90)" font-size="8" fill="#111" stroke="#111">per electron</text>
<text x="176.9" y="130.1" font-size="10.6" text-anchor="start" fill="#111" stroke="#111" >(b)</text>
<text x="150" y="22" font-size="8.5" fill="#111" stroke="#111">n (cm<tspan font-size="6.5" dy="-3.5">-3</tspan><tspan dy="3.5">)</tspan></text>
<text x="129.4" y="32.5" font-size="9.2" fill="#111" stroke="#111">10</text>
<text x="139.9" y="28.9" font-size="6.9" fill="#111" stroke="#111">16</text>
<text x="130.5" y="59.6" font-size="9.2" fill="#111" stroke="#111">10</text>
<text x="141" y="56" font-size="6.9" fill="#111" stroke="#111">17</text>
<text x="128.6" y="78.5" font-size="9.2" fill="#111" stroke="#111">10</text>
<text x="139.1" y="74.9" font-size="6.9" fill="#111" stroke="#111">18</text>
<text x="131.8" y="100.1" font-size="9.2" fill="#111" stroke="#111">10</text>
<text x="142.3" y="96.5" font-size="6.9" fill="#111" stroke="#111">19</text>
<text x="219" y="120.2" font-size="8.8" text-anchor="end" fill="#111" stroke="#111" >10</text>
<text x="219" y="99.2" font-size="8.8" text-anchor="end" fill="#111" stroke="#111" >20</text>
<text x="219" y="78.2" font-size="8.8" text-anchor="end" fill="#111" stroke="#111" >30</text>
<text x="219" y="57.2" font-size="8.8" text-anchor="end" fill="#111" stroke="#111" >40</text>
<text x="219" y="36.2" font-size="8.8" text-anchor="end" fill="#111" stroke="#111" >50</text>
<text x="219" y="15.2" font-size="8.8" text-anchor="end" fill="#111" stroke="#111" >60</text>
<text x="220.4" y="146.2" font-size="8.8" text-anchor="middle" fill="#111" stroke="#111" >0</text>
<text x="239.12" y="146.2" font-size="8.8" text-anchor="middle" fill="#111" stroke="#111" >1</text>
<text x="257.85" y="146.2" font-size="8.8" text-anchor="middle" fill="#111" stroke="#111" >2</text>
<text x="276.57" y="146.2" font-size="8.8" text-anchor="middle" fill="#111" stroke="#111" >3</text>
<text x="295.3" y="146.2" font-size="8.8" text-anchor="middle" fill="#111" stroke="#111" >4</text>
<text x="257.6" y="155.5" font-size="8" text-anchor="middle" fill="#111" stroke="#111" >Electron temperature</text>
<text x="255.3" y="164.8" font-size="8.1" text-anchor="middle" fill="#111" stroke="#111" >(1000 K)</text>
<text transform="translate(205.9,121) rotate(-90)" font-size="8" fill="#111" stroke="#111">Energy relaxation rate (ps<tspan font-size="6" dy="-3">-1</tspan><tspan dy="3">)</tspan></text>
<text x="278.9" y="133.8" font-size="10.6" text-anchor="start" fill="#111" stroke="#111" >(c)</text>
<text x="244.6" y="21.2" font-size="8.5" fill="#111" stroke="#111">n (cm<tspan font-size="6.5" dy="-3.5">-3</tspan><tspan dy="3.5">)</tspan></text>
<text x="255" y="48.9" font-size="9.2" fill="#111" stroke="#111">10</text>
<text x="265.5" y="45.3" font-size="6.9" fill="#111" stroke="#111">16</text>
<text x="255" y="76.1" font-size="9.2" fill="#111" stroke="#111">10</text>
<text x="265.5" y="72.5" font-size="6.9" fill="#111" stroke="#111">17</text>
<text x="255" y="108.5" font-size="9.2" fill="#111" stroke="#111">10</text>
<text x="265.5" y="104.9" font-size="6.9" fill="#111" stroke="#111">18</text>
<text x="254.6" y="132.9" font-size="9.2" fill="#111" stroke="#111">10</text>
<text x="265.1" y="129.3" font-size="6.9" fill="#111" stroke="#111">19</text>
<text x="44.4" y="39.2" font-size="8.1" fill="#e53030" stroke="#e53030">T<tspan font-size="7.6" dy="2.5" dx="-0.3">e</tspan><tspan dy="-2.5" dx="-0.2">=4000K</tspan></text>
<text x="47" y="87.5" font-size="8.1" fill="#2ec42e" stroke="#2ec42e">T<tspan font-size="7.6" dy="2.5" dx="-0.3">e</tspan><tspan dy="-2.5" dx="-0.2">=3000K</tspan></text>
<text x="56" y="184.6" font-size="8.1" fill="#2a45e0" stroke="#2a45e0">T<tspan font-size="7.6" dy="2.5" dx="-0.3">e</tspan><tspan dy="-2.5" dx="-0.2">=2000K</tspan></text>
</g></svg>
</body></html>
